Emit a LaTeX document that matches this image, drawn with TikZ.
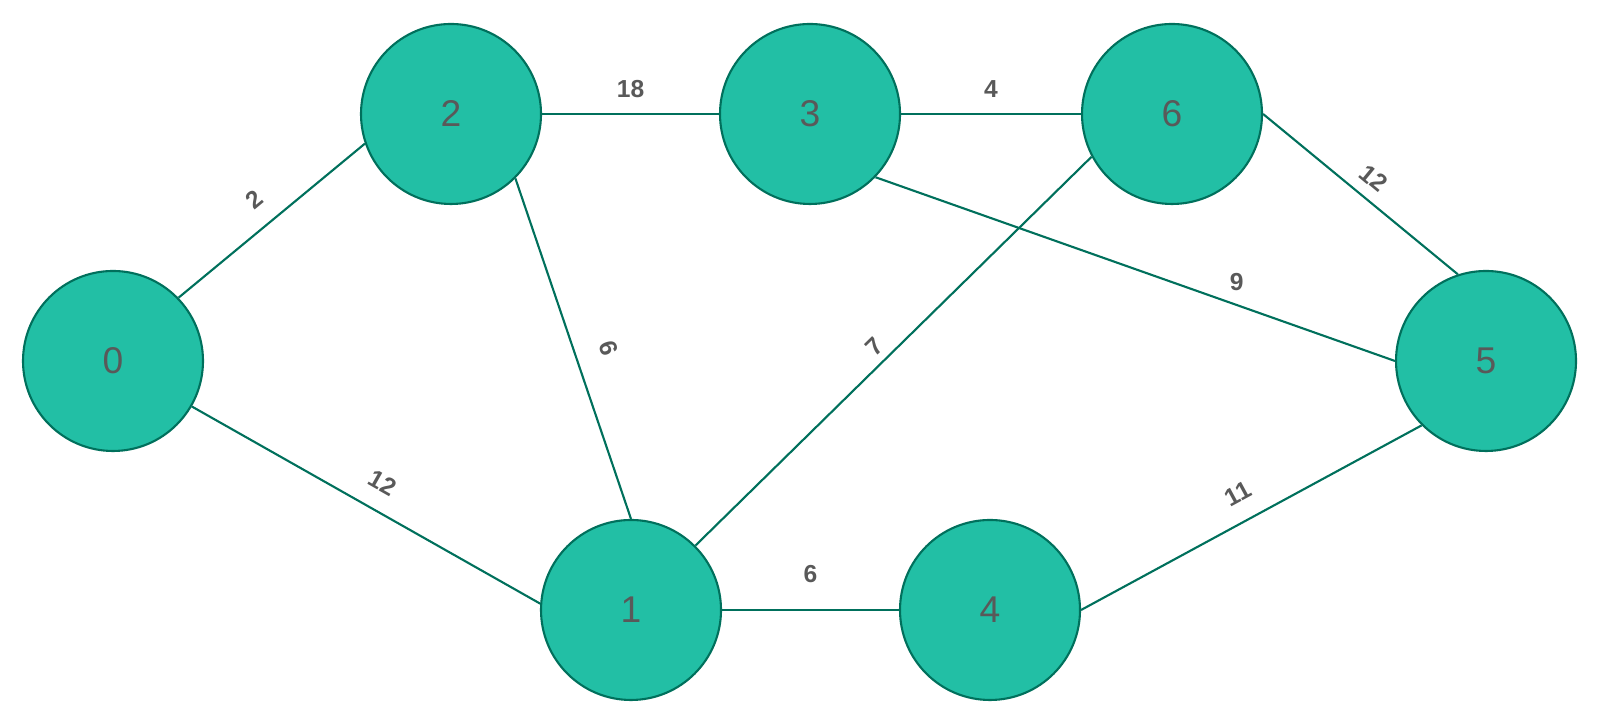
\documentclass[tikz,border=0pt]{standalone}
\usepackage{fontspec}
\setmainfont{Liberation Sans}
\usetikzlibrary{positioning}
\definecolor{nodefill}{RGB}{34,191,165}
\definecolor{nodeline}{RGB}{0,112,92}
\definecolor{txtgray}{RGB}{89,89,89}

\begin{document}
\begin{tikzpicture}[
  vertex/.style={circle,draw=nodeline,fill=nodefill,line width=0.6pt,minimum size=1.8cm,inner sep=0,text=txtgray,font=\fontsize{10.6}{12}\selectfont},
  link/.style={draw=nodeline,line width=0.6pt},
  weight/.style={sloped,inner sep=0,text=txtgray,font=\fontsize{7}{8}\selectfont\bfseries}
]
\useasboundingbox (0,0) rectangle (16,7.23);
% vertices
\node[vertex] (n0) at (1.13,3.62) {0};
\node[vertex] (n2) at (4.51,6.09) {2};
\node[vertex] (n3) at (8.10,6.09) {3};
\node[vertex] (n6) at (11.72,6.09) {6};
\node[vertex] (n5) at (14.86,3.62) {5};
\node[vertex] (n1) at (6.31,1.13) {1};
\node[vertex] (n4) at (9.90,1.13) {4};
% weighted edges
\draw[link] (n0.44) -- node[weight,above=0.18cm] {2} (n2.199);
\draw[link] (n0.330) -- node[weight,pos=0.51,above=0.18cm] {12} (n1.176);
\draw[link] (n2.0) -- node[weight,above=0.15cm] {18} (n3.180);
\draw[link] (n2.315) -- node[weight,pos=0.53,above=0.24cm] {6} (n1.90);
\draw[link] (n3.0) -- node[weight,above=0.15cm] {4} (n6.180);
\draw[link] (n3.316) -- node[pos=0.68,xshift=0.08cm,yshift=0.2cm,inner sep=0,text=txtgray,font=\fontsize{7}{8}\selectfont\bfseries] {9} (n5.180);
\draw[link] (n6.0) -- node[weight,above=0.11cm] {12} (n5.108);
\draw[link] (n1.45) -- node[weight,pos=0.48,above=0.07cm] {7} (n6.208);
\draw[link] (n1.0) -- node[weight,above=0.26cm] {6} (n4.180);
\draw[link] (n4.0) -- node[weight,above=0.18cm] {11} (n5.225);
\end{tikzpicture}
\end{document}
